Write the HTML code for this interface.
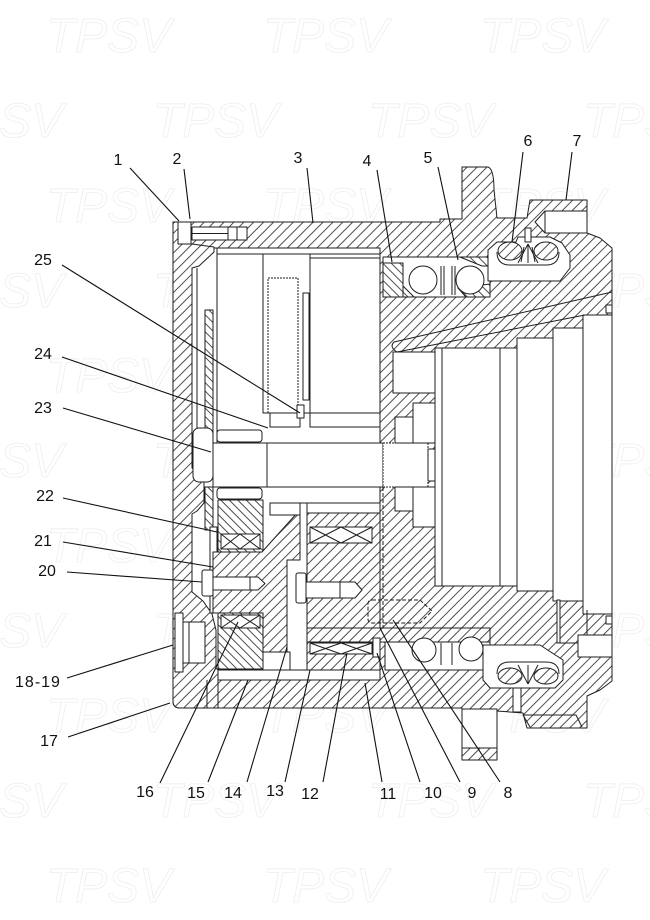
<!DOCTYPE html>
<html><head><meta charset="utf-8">
<style>
html,body{margin:0;padding:0;background:#fff;}
svg{display:block;}
</style></head><body>
<svg width="650" height="920" viewBox="0 0 650 920" xmlns="http://www.w3.org/2000/svg">
<defs>
 <pattern id="h" width="7" height="7" patternUnits="userSpaceOnUse" patternTransform="rotate(45)">
  <rect width="7" height="7" fill="#fff"/>
  <line x1="0.5" y1="0" x2="0.5" y2="7" stroke="#3a3a3a" stroke-width="0.9"/>
 </pattern>
 <pattern id="k" width="6" height="6" patternUnits="userSpaceOnUse" patternTransform="rotate(-45)">
  <rect width="6" height="6" fill="#fff"/>
  <line x1="0.5" y1="0" x2="0.5" y2="6" stroke="#3a3a3a" stroke-width="0.9"/>
 </pattern>
</defs>
<rect width="650" height="920" fill="#fff"/>

<!-- watermark -->
<g fill="none" stroke="#eeeeee" stroke-width="0.8" font-family="Liberation Sans, sans-serif" font-size="48" font-style="italic">
<text x="46" y="52" textLength="125" lengthAdjust="spacingAndGlyphs">TPSV</text>
<text x="263" y="52" textLength="125" lengthAdjust="spacingAndGlyphs">TPSV</text>
<text x="480" y="52" textLength="125" lengthAdjust="spacingAndGlyphs">TPSV</text>
<text x="-62" y="137" textLength="125" lengthAdjust="spacingAndGlyphs">TPSV</text>
<text x="153" y="137" textLength="125" lengthAdjust="spacingAndGlyphs">TPSV</text>
<text x="368" y="137" textLength="125" lengthAdjust="spacingAndGlyphs">TPSV</text>
<text x="583" y="137" textLength="125" lengthAdjust="spacingAndGlyphs">TPSV</text>
<text x="46" y="222" textLength="125" lengthAdjust="spacingAndGlyphs">TPSV</text>
<text x="263" y="222" textLength="125" lengthAdjust="spacingAndGlyphs">TPSV</text>
<text x="480" y="222" textLength="125" lengthAdjust="spacingAndGlyphs">TPSV</text>
<text x="-62" y="307" textLength="125" lengthAdjust="spacingAndGlyphs">TPSV</text>
<text x="153" y="307" textLength="125" lengthAdjust="spacingAndGlyphs">TPSV</text>
<text x="368" y="307" textLength="125" lengthAdjust="spacingAndGlyphs">TPSV</text>
<text x="583" y="307" textLength="125" lengthAdjust="spacingAndGlyphs">TPSV</text>
<text x="46" y="392" textLength="125" lengthAdjust="spacingAndGlyphs">TPSV</text>
<text x="263" y="392" textLength="125" lengthAdjust="spacingAndGlyphs">TPSV</text>
<text x="480" y="392" textLength="125" lengthAdjust="spacingAndGlyphs">TPSV</text>
<text x="-62" y="477" textLength="125" lengthAdjust="spacingAndGlyphs">TPSV</text>
<text x="153" y="477" textLength="125" lengthAdjust="spacingAndGlyphs">TPSV</text>
<text x="368" y="477" textLength="125" lengthAdjust="spacingAndGlyphs">TPSV</text>
<text x="583" y="477" textLength="125" lengthAdjust="spacingAndGlyphs">TPSV</text>
<text x="46" y="562" textLength="125" lengthAdjust="spacingAndGlyphs">TPSV</text>
<text x="263" y="562" textLength="125" lengthAdjust="spacingAndGlyphs">TPSV</text>
<text x="480" y="562" textLength="125" lengthAdjust="spacingAndGlyphs">TPSV</text>
<text x="-62" y="647" textLength="125" lengthAdjust="spacingAndGlyphs">TPSV</text>
<text x="153" y="647" textLength="125" lengthAdjust="spacingAndGlyphs">TPSV</text>
<text x="368" y="647" textLength="125" lengthAdjust="spacingAndGlyphs">TPSV</text>
<text x="583" y="647" textLength="125" lengthAdjust="spacingAndGlyphs">TPSV</text>
<text x="46" y="732" textLength="125" lengthAdjust="spacingAndGlyphs">TPSV</text>
<text x="263" y="732" textLength="125" lengthAdjust="spacingAndGlyphs">TPSV</text>
<text x="480" y="732" textLength="125" lengthAdjust="spacingAndGlyphs">TPSV</text>
<text x="-62" y="817" textLength="125" lengthAdjust="spacingAndGlyphs">TPSV</text>
<text x="153" y="817" textLength="125" lengthAdjust="spacingAndGlyphs">TPSV</text>
<text x="368" y="817" textLength="125" lengthAdjust="spacingAndGlyphs">TPSV</text>
<text x="583" y="817" textLength="125" lengthAdjust="spacingAndGlyphs">TPSV</text>
<text x="46" y="902" textLength="125" lengthAdjust="spacingAndGlyphs">TPSV</text>
<text x="263" y="902" textLength="125" lengthAdjust="spacingAndGlyphs">TPSV</text>
<text x="480" y="902" textLength="125" lengthAdjust="spacingAndGlyphs">TPSV</text>
</g>

<g stroke="#1e1e1e" stroke-width="1" stroke-linejoin="round">
<!-- main silhouette -->
<path fill="url(#h)" d="M173,222 L440,222 L440,219 L462,219 L462,167 L488,167 Q494,169 494,190 L497,218 L527,218 L530,200 L587,200 L587,233 L600,238 L612,248 L612,681 L600,690 L587,696 L587,728 L527,728 L523,713 L497,711 L497,760 L462,760 L462,708 L180,708 Q173,708 173,701 Z"/>

<!-- central cavity -->
<rect x="192" y="248" width="188" height="432" fill="#fff"/>

<!-- cover 17 -->
<path fill="url(#h)" d="M173,222 L178,222 L178,244 L192,244 L214,247 L214,252 L199,266 L192,268 L192,468 L199,474 L204,482 L204,503 L197,511 L192,514 L192,592 L203,601 L212,614 L216,630 L216,668 L218,670 L218,708 L180,708 Q173,708 173,701 Z"/>
<line x1="207" y1="680" x2="207" y2="708"/>

<!-- bolts 1 and 2 -->
<rect x="178" y="222" width="13" height="22" fill="#fff"/>
<rect x="192" y="227" width="55" height="13" fill="#fff"/>
<line x1="228" y1="227" x2="228" y2="240"/>
<line x1="237" y1="227" x2="237" y2="240"/>
<line x1="192" y1="233.5" x2="228" y2="233.5"/>

<!-- upper planetary -->
<rect x="217" y="248" width="163" height="6" fill="#fff"/>
<line x1="217" y1="254" x2="217" y2="443"/>
<line x1="197" y1="268" x2="197" y2="428"/>
<rect x="205" y="310" width="8" height="130" fill="url(#k)"/>
<rect x="263" y="254" width="47" height="159" fill="none"/>
<rect x="268" y="278" width="30" height="135" fill="none" stroke-dasharray="2 1"/>
<rect x="303" y="293" width="6" height="107" fill="none"/>
<rect x="310" y="254" width="70" height="159" fill="none"/>
<line x1="310" y1="258" x2="380" y2="258"/>
<rect x="270" y="413" width="30" height="14" fill="#fff"/>
<rect x="297" y="405" width="7" height="13" fill="#fff"/>
<rect x="310" y="413" width="70" height="14" fill="#fff"/>
<rect x="217" y="430" width="45" height="12" rx="3" fill="#fff"/>
<rect x="193" y="428" width="20" height="54" rx="6" fill="#fff"/>
<rect x="213" y="443" width="170" height="44" fill="#fff"/>
<line x1="267" y1="443" x2="267" y2="487"/>
<rect x="383" y="443" width="45" height="44" fill="#fff" stroke-dasharray="2 1"/>
<rect x="428" y="449" width="19" height="32" fill="#fff"/>

<!-- hub blocks -->
<rect x="393" y="352" width="42" height="41" fill="#fff"/>
<rect x="395" y="417" width="18" height="26" fill="#fff"/>
<rect x="413" y="403" width="22" height="40" fill="#fff"/>
<rect x="395" y="487" width="18" height="24" fill="#fff"/>
<rect x="413" y="487" width="22" height="40" fill="#fff"/>

<!-- drum plates -->
<path fill="#fff" d="M435,348 L517,348 L517,338 L553,338 L553,328 L583,328 L583,315 L612,315 L612,614 L583,614 L583,601 L553,601 L553,591 L517,591 L517,586 L435,586 Z"/>
<line x1="442" y1="348" x2="442" y2="586"/>
<line x1="500" y1="348" x2="500" y2="586"/>
<line x1="517" y1="348" x2="517" y2="586"/>
<line x1="553" y1="338" x2="553" y2="591"/>
<line x1="583" y1="328" x2="583" y2="601"/>
<rect x="606" y="305" width="6" height="8" fill="#fff"/>
<rect x="606" y="616" width="6" height="8" fill="#fff"/>

<!-- wedge -->
<path fill="none" d="M612,292 L394,342 Q389,347 397,352 L585,315"/>

<!-- top bearing cavity -->
<rect x="383" y="257" width="107" height="40" fill="#fff"/>
<rect x="383" y="263" width="20" height="34" fill="url(#k)"/>
<path fill="url(#k)" d="M403,286 L414,297 L403,297 Z"/>
<path fill="url(#k)" d="M458,288 L490,284 L490,297 L466,297 Z"/>
<path fill="url(#k)" d="M460,257 L490,257 L490,266 L482,266 Z"/>
<circle cx="423" cy="280" r="14" fill="#fff"/>
<circle cx="470" cy="280" r="14" fill="#fff"/>
<line x1="441" y1="266" x2="441" y2="295"/>
<line x1="444" y1="266" x2="444" y2="295"/>
<line x1="452" y1="266" x2="452" y2="295"/>
<line x1="455" y1="266" x2="455" y2="295"/>

<!-- top seal 6 and bolt 7 -->
<path fill="#fff" d="M488,250 L497,242 L516,242 L518,237 L550,237 L562,243 L570,255 L570,268 L560,281 L488,281 Z"/>
<ellipse cx="510" cy="251" rx="12" ry="9" fill="url(#h)"/>
<ellipse cx="546" cy="251" rx="12" ry="9" fill="url(#h)"/>
<path fill="none" d="M497,252 Q497,265 510,265 L546,265 Q559,265 559,252"/>
<path fill="none" d="M528,244 L518,263 M528,244 L538,263 M528,244 L528,263 M524,247 L521,262 M532,247 L535,262"/>
<rect x="525" y="228" width="6" height="14" fill="#fff"/>
<path fill="#fff" d="M535,222 L545,211 L587,211 L587,233 L545,233 Z"/>
<line x1="545" y1="211" x2="545" y2="233"/>

<!-- lower planetary -->
<rect x="205" y="487" width="8" height="43" fill="url(#k)"/>
<rect x="210" y="527" width="7" height="86" fill="#fff"/>
<rect x="217" y="488" width="45" height="11" rx="3" fill="#fff"/>
<rect x="218" y="500" width="45" height="52" fill="url(#k)"/>
<rect x="221" y="534" width="39" height="15" fill="#fff"/>
<path fill="none" d="M221,534 L240,549 L260,534 M221,549 L240,534 L260,549"/>
<path fill="url(#h)" d="M213,552 L262,552 L298,512 L300,512 L300,560 L287,560 L287,652 L263,652 L263,613 L213,613 Z"/>
<path fill="#fff" d="M300,503 L307,503 L307,670 L290,670 L290,652 L287,652 L287,560 L300,560 Z"/>
<rect x="270" y="503" width="30" height="12" fill="#fff"/>
<rect x="307" y="503" width="73" height="10" fill="#fff"/>
<rect x="307" y="513" width="73" height="115" fill="url(#h)"/>
<rect x="310" y="527" width="62" height="16" fill="#fff"/>
<path fill="none" d="M310,527 L341,543 L372,527 M310,543 L341,527 L372,543"/>
<rect x="218" y="613" width="45" height="56" fill="url(#k)"/>
<rect x="221" y="615" width="39" height="13" fill="#fff"/>
<path fill="none" d="M221,615 L240,628 L260,615 M221,628 L240,615 L260,628"/>
<rect x="307" y="628" width="183" height="14" fill="url(#h)"/>
<rect x="307" y="642" width="73" height="28" fill="url(#h)"/>
<rect x="310" y="643" width="62" height="11" fill="#fff"/>
<path fill="none" d="M310,643 L341,654 L372,643 M310,654 L341,643 L372,654"/>
<rect x="218" y="670" width="162" height="10" fill="#fff"/>

<!-- bolts 20 and center bolt -->
<rect x="202" y="570" width="11" height="26" rx="2" fill="#fff"/>
<path fill="#fff" d="M213,577 L258,577 L265,583.5 L258,590 L213,590 Z"/>
<line x1="250" y1="577" x2="250" y2="590"/>
<rect x="296" y="573" width="10" height="30" rx="2" fill="#fff"/>
<path fill="#fff" d="M306,582 L355,582 L362,590 L355,598 L306,598 Z"/>
<line x1="340" y1="582" x2="340" y2="598"/>

<!-- plug 18-19 -->
<rect x="175" y="613" width="8" height="59" fill="#fff"/>
<rect x="183" y="622" width="22" height="41" fill="#fff"/>
<line x1="189" y1="622" x2="189" y2="663"/>

<!-- lower bearing / seal -->
<rect x="385" y="642" width="105" height="28" fill="#fff"/>
<rect x="373" y="638" width="7" height="19" fill="#fff"/>
<circle cx="424" cy="650" r="12" fill="#fff"/>
<circle cx="471" cy="649" r="12" fill="#fff"/>
<line x1="441" y1="643" x2="441" y2="665"/>
<line x1="452" y1="643" x2="452" y2="665"/>
<path fill="#fff" d="M483,645 L540,645 L563,660 L563,680 L555,688 L490,688 L483,680 Z"/>
<ellipse cx="510" cy="676" rx="12" ry="8" fill="url(#h)"/>
<ellipse cx="546" cy="676" rx="12" ry="8" fill="url(#h)"/>
<path fill="none" d="M497,674 Q497,662 510,662 L546,662 Q559,662 559,674"/>
<path fill="none" d="M528,684 L518,665 M528,684 L538,665 M528,684 L528,665"/>
<rect x="513" y="688" width="8" height="24" fill="#fff"/>

<!-- lower right details -->
<rect x="578" y="635" width="34" height="22" fill="#fff"/>
<line x1="587" y1="610" x2="587" y2="635"/>
<rect x="557" y="600" width="3" height="43" fill="#fff"/>
<line x1="557" y1="643" x2="578" y2="643"/>
<path fill="none" d="M530,727 L523,715 L576,715 L582,727"/>
<rect x="462" y="709" width="35" height="39" fill="#fff"/>

<!-- dashed -->
<line x1="383" y1="487" x2="383" y2="628" stroke-dasharray="4 2"/>
<path fill="none" stroke-dasharray="4 2" d="M372,600 L420,600 L432,611 L420,623 L372,623 Q368,623 368,619 L368,604 Q368,600 372,600 Z"/>
</g>

<!-- leader lines -->
<g stroke="#111" stroke-width="1.1" fill="none">
<line x1="130" y1="168" x2="179" y2="221"/>
<line x1="184" y1="169" x2="190" y2="219"/>
<line x1="307" y1="168" x2="313" y2="223"/>
<line x1="377" y1="170" x2="392" y2="262"/>
<line x1="438" y1="167" x2="458" y2="260"/>
<line x1="523" y1="152" x2="512" y2="242"/>
<line x1="572" y1="152" x2="566" y2="200"/>
<line x1="62" y1="265" x2="300" y2="413"/>
<line x1="62" y1="357" x2="268" y2="428"/>
<line x1="63" y1="408" x2="211" y2="452"/>
<line x1="63" y1="498" x2="217" y2="532"/>
<line x1="63" y1="542" x2="213" y2="567"/>
<line x1="67" y1="572" x2="202" y2="582"/>
<line x1="67" y1="678" x2="173" y2="645"/>
<line x1="68" y1="737" x2="170" y2="703"/>
<line x1="160" y1="783" x2="238" y2="622"/>
<line x1="208" y1="782" x2="248" y2="680"/>
<line x1="247" y1="782" x2="287" y2="647"/>
<line x1="285" y1="782" x2="310" y2="670"/>
<line x1="323" y1="782" x2="347" y2="653"/>
<line x1="382" y1="782" x2="365" y2="683"/>
<line x1="420" y1="782" x2="377" y2="653"/>
<line x1="460" y1="782" x2="380" y2="628"/>
<line x1="500" y1="782" x2="393" y2="620"/>
</g>

<!-- labels -->
<g fill="#111" font-family="Liberation Sans, Arial, sans-serif" font-size="16" text-anchor="middle">
<text x="118" y="165">1</text>
<text x="177" y="164">2</text>
<text x="298" y="163">3</text>
<text x="367" y="166">4</text>
<text x="428" y="163">5</text>
<text x="528" y="146">6</text>
<text x="577" y="146">7</text>
<text x="43" y="265">25</text>
<text x="43" y="359">24</text>
<text x="43" y="413">23</text>
<text x="45" y="501">22</text>
<text x="43" y="546">21</text>
<text x="47" y="576">20</text>
<text x="38" y="687" letter-spacing="1">18-19</text>
<text x="49" y="746">17</text>
<text x="145" y="797">16</text>
<text x="196" y="798">15</text>
<text x="233" y="798">14</text>
<text x="275" y="796">13</text>
<text x="310" y="799">12</text>
<text x="388" y="799">11</text>
<text x="433" y="798">10</text>
<text x="472" y="798">9</text>
<text x="508" y="798">8</text>
</g>
</svg>
</body></html>
